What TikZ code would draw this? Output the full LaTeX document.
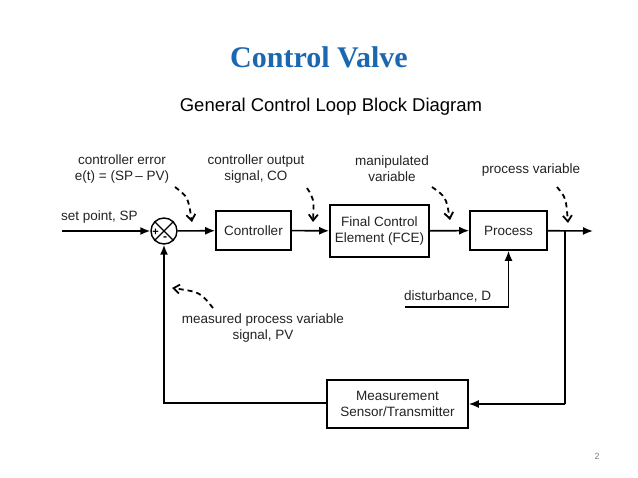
\documentclass[tikz,border=0pt]{standalone}
\usepackage{fontspec}
\setmainfont{Liberation Sans}
\newfontfamily\titlefont{Liberation Serif}
\usetikzlibrary{arrows.meta,calc}
\definecolor{titleblue}{RGB}{28,104,176}
\definecolor{txt}{RGB}{35,35,35}
\begin{document}
\begin{tikzpicture}[x=1pt,y=-1pt,
  blk/.style={draw, line width=1.6pt, inner sep=0pt, align=center, text=txt, font=\fontsize{13.5}{16}\selectfont},
  sig/.style={line width=1.6pt, -{Latex[length=10pt,width=8pt]}},
  note/.style={align=center, inner sep=0pt, font=\fontsize{13.5}{16}\selectfont, text=txt},
  hint/.style={line width=1.8pt, dash pattern=on 5pt off 4pt, -{Straight Barb[length=6pt,width=9pt]}},
]
\fill[white] (0,0) rectangle (638,478);
\useasboundingbox (0,0) rectangle (638,478);

% titles
\node[font=\titlefont\bfseries\fontsize{30}{34}\selectfont, text=titleblue] (title) at (319,57) {Control Valve};
\node[font=\fontsize{18.5}{22}\selectfont, text=black] (sub) at (331,107) {General Control Loop Block Diagram};

% blocks
\node[draw, circle, line width=1.4pt, minimum size=26pt, inner sep=0pt] (sum) at (164,231) {};
\draw[line width=1.2pt] (sum.45) -- (sum.225) (sum.135) -- (sum.315);
\node[inner sep=0pt, font=\fontsize{11}{11}\selectfont\bfseries] (plus) at (155.5,232) {+};
\node[inner sep=0pt, font=\fontsize{12}{12}\selectfont\bfseries] (minus) at (165,238.5) {-};

\node[blk, minimum width=75pt, minimum height=39pt] (ctrl) at (253.5,230.5) {Controller};
\node[blk, minimum width=99pt, minimum height=52pt] (fce) at (379.5,231) {Final Control\\Element (FCE)};
\node[blk, minimum width=77pt, minimum height=39pt] (proc) at (508.5,230.5) {Process};
\node[blk, minimum width=141pt, minimum height=48pt] (meas) at (397.5,404) {Measurement\\Sensor/Transmitter};

% signal lines
\coordinate (sp) at (62,231);
\coordinate (out) at (593,231);
\coordinate (br) at (565,231);
\coordinate (brd) at (565,404);
\coordinate (fbl) at (164,403);
\coordinate (dl) at (405,307);
\coordinate (dc) at (508.5,307);

\draw[sig] (sp) -- (sum);
\draw[sig] (sum) -- (ctrl);
\draw[sig] (ctrl) -- (fce);
\draw[sig] (fce) -- (proc);
\draw[sig] (proc) -- (out);
\draw[line width=1.6pt] (br) -- (brd);
\draw[sig] (brd) -- (meas.east |- brd);
\draw[sig] (meas.west |- fbl) -- (fbl) -- (sum.south);
\draw[sig] (dl) -- (dc) -- (proc.south);

% labels
\node[note, anchor=west] (splbl) at (61,217) {set point, SP};
\node[note] (celbl) at (122,169) {controller error\\e(t) = (SP\,– PV)};
\node[note] (colbl) at (256,169) {controller output\\signal, CO};
\node[note] (mvlbl) at (392,169) {manipulated\\variable};
\node[note] (pvlbl) at (531,170) {process variable};
\node[note] (mplbl) at (263,328) {measured process variable\\signal, PV};
\node[note, anchor=west] (dlbl) at (404,296) {disturbance, D};
\node[inner sep=0pt, font=\fontsize{9}{10}\selectfont, text=gray] (pg) at (597,456) {2};

% dashed hint arrows
\coordinate (ce1) at (175,187); \coordinate (ce2) at (192,222);
\coordinate (co1) at (307,188); \coordinate (co2) at (313,222);
\coordinate (mv1) at (432,187); \coordinate (mv2) at (450,220);
\coordinate (pv1) at (557,187); \coordinate (pv2) at (568,223);
\coordinate (mp1) at (213,308); \coordinate (mp2) at (172,288);
\draw[hint] (ce1) .. controls (188,197) .. (ce2);
\draw[hint] (co1) .. controls (314,199) .. (co2);
\draw[hint] (mv1) .. controls (446,197) .. (mv2);
\draw[hint] (pv1) .. controls (566,198) .. (pv2);
\draw[hint] (mp1) .. controls (200,292) .. (mp2);
\end{tikzpicture}
\end{document}
